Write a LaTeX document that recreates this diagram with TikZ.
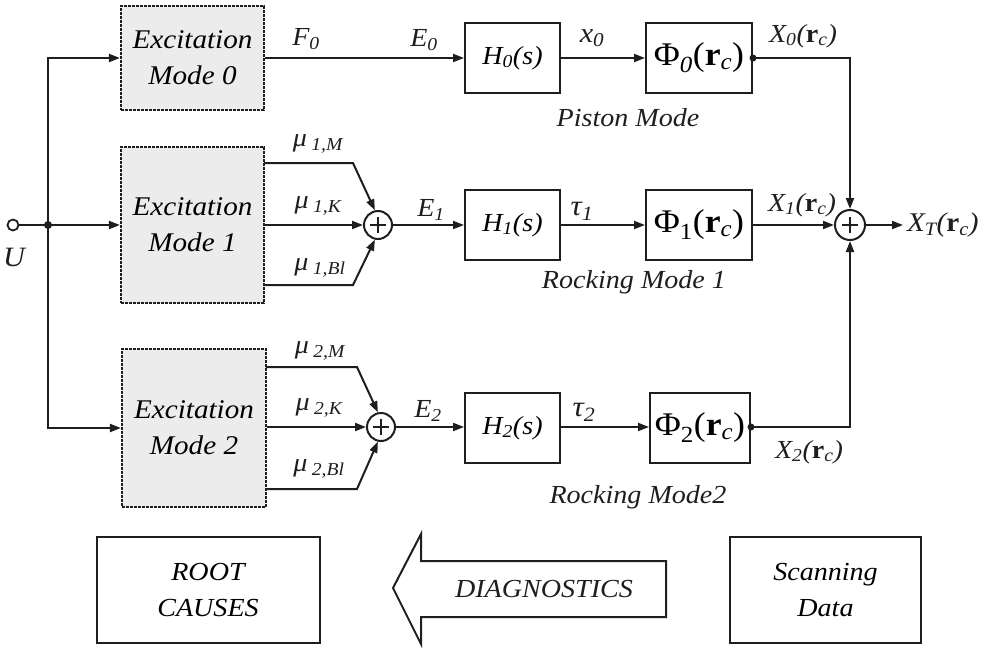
\documentclass[tikz,border=0pt]{standalone}
\usepackage{fontspec}
\setmainfont{Liberation Serif}[FakeStretch=1.08]
\usetikzlibrary{arrows.meta}
\definecolor{excfill}{RGB}{236,236,236}
\definecolor{ink}{RGB}{30,30,30}
\begin{document}
\begin{tikzpicture}[x=1pt,y=-1pt,
  line width=2pt,
  exc/.style={draw=ink, fill=excfill, dash pattern=on 3pt off 1pt, line width=2.2pt,
    minimum width=143pt, align=center, font=\fontsize{27}{36}\selectfont\itshape, inner sep=0pt},
  blk/.style={draw=ink, line width=2pt, minimum width=95pt, minimum height=70pt, inner sep=0pt,
    font=\fontsize{26}{28}\selectfont\itshape},
  phib/.style={blk, minimum width=106pt, font=\fontsize{33}{34}\selectfont\upshape},
  sumc/.style={circle, draw=ink, line width=2pt, minimum size=28pt, inner sep=0pt,
    path picture={\draw[ink, line width=1.6pt] ([xshift=-8pt]path picture bounding box.center) -- ([xshift=8pt]path picture bounding box.center);
      \draw[ink, line width=1.6pt] ([yshift=-8pt]path picture bounding box.center) -- ([yshift=8pt]path picture bounding box.center);}},
  lbl/.style={inner sep=0pt, font=\fontsize{26}{28}\selectfont\itshape, text=ink},
  mul/.style={inner sep=0pt, font=\fontsize{26}{28}\selectfont\itshape, text=ink},
  model/.style={inner sep=0pt, font=\fontsize{26}{28}\selectfont\itshape, text=ink},
  bot/.style={draw=ink, line width=2pt, align=center, font=\fontsize{26}{36}\selectfont\itshape, inner sep=0pt},
  arr/.style={draw=ink, -{Triangle[length=11pt,width=8pt]}, line width=2pt},
  wire/.style={draw=ink, line width=2pt},
]
\useasboundingbox (0,0) rectangle (986,648);

% input
\node[circle, draw=ink, line width=1.8pt, minimum size=11pt, inner sep=0pt] (U) at (13,225) {};
\node[lbl, font=\fontsize{28}{30}\selectfont\itshape] (Ul) at (14,257) {U};
\coordinate (J) at (48,225);
\fill[ink] (J) circle (4);

% excitation boxes
\node[exc, minimum height=104pt] (E0) at (192.5,58) {Excitation\\Mode 0};
\node[exc, minimum height=156pt] (E1) at (192.5,225) {Excitation\\Mode 1};
\node[exc, minimum width=144pt, minimum height=158pt] (E2) at (194,428) {Excitation\\Mode 2};

\draw[wire] (U) -- (J);
\draw[arr] (J) -- (E1.west);
\draw[arr] (J) |- (E0.west);
\draw[arr] (J) |- (E2.west);

% row 0
\node[blk] (H0) at (512.5,58) {H\textsubscript{0}(s)};
\node[phib] (P0) at (699,58) {Φ\textsubscript{\itshape 0}(\textbf{r}\textsubscript{\itshape c})};
\draw[arr] (E0.east) -- (H0.west);
\draw[arr] (H0) -- (P0);
\node[lbl] (F0l) at (306,39) {F\textsubscript{0}};
\node[lbl] (E0l) at (424,40) {E\textsubscript{0}};
\node[lbl, font=\fontsize{28}{30}\selectfont\itshape] (x0l) at (592,38) {x\textsubscript{0}};
\node[model] (pist) at (628,118) {Piston Mode};

% row 1
\node[sumc] (S1) at (378,225) {};
\node[blk] (H1) at (512.5,225) {H\textsubscript{1}(s)};
\node[phib] (P1) at (699,225) {Φ\textsubscript{1}(\textbf{r}\textsubscript{\itshape c})};
\coordinate (m1t) at (264,163);
\coordinate (m1b) at (264,285);
\draw[arr] (m1t) -- ++(89,0) -- (S1.102);
\draw[arr] (E1.east) -- (S1.west);
\draw[arr] (m1b) -- ++(89,0) -- (S1.258);
\draw[arr] (S1) -- (H1);
\draw[arr] (H1) -- (P1);
\node[mul] (mu1M) at (318,144) {μ\,\textsubscript{1,M}};
\node[mul] (mu1K) at (318,206) {μ\,\textsubscript{1,K}};
\node[mul] (mu1B) at (320,268) {μ\,\textsubscript{1,Bl}};
\node[lbl] (E1l) at (431,210) {E\textsubscript{1}};
\node[lbl, font=\fontsize{29}{30}\selectfont\itshape] (t1l) at (582,211) {τ\textsubscript{1}};
\node[model] (rock1) at (634,282) {Rocking Mode 1};

% row 2
\node[sumc] (S2) at (381,427) {};
\node[blk] (H2) at (512.5,428) {H\textsubscript{2}(s)};
\node[phib, minimum width=100pt] (P2) at (700,428) {Φ\textsubscript{2}(\textbf{r}\textsubscript{\itshape c})};
\coordinate (m2t) at (266,367);
\coordinate (m2b) at (266,489);
\draw[arr] (m2t) -- ++(91,0) -- (S2.102);
\draw[arr] (E2.east |- S2) -- (S2.west);
\draw[arr] (m2b) -- ++(91,0) -- (S2.258);
\draw[arr] (S2) -- (H2.west |- S2);
\draw[arr] (H2.east |- S2) -- (P2.west |- S2);
\node[mul] (mu2M) at (320,351) {μ\,\textsubscript{2,M}};
\node[mul] (mu2K) at (319,408) {μ\,\textsubscript{2,K}};
\node[mul] (mu2B) at (319,469) {μ\,\textsubscript{2,Bl}};
\node[lbl] (E2l) at (428,411) {E\textsubscript{2}};
\node[lbl, font=\fontsize{29}{30}\selectfont\itshape] (t2l) at (584,412) {τ\textsubscript{2}};
\node[model] (rock2) at (638,497) {Rocking Mode2};

% total sum
\node[sumc, minimum size=30pt] (ST) at (850,225) {};
\fill[ink] (P0.east) circle (3.5);
\fill[ink] (P2.east |- S2) circle (3.5);
\draw[arr] (P0.east) -| (ST.north);
\draw[arr] (P2.east |- S2) -| (ST.south);
\draw[arr] (P1.east) -- (ST.west);
\node[lbl, anchor=west, font=\fontsize{27}{28}\selectfont\itshape] (XT) at (906,225) {X\textsubscript{T}(\textbf{\upshape r}\textsubscript{c})};
\draw[arr] (ST.east) -- ([xshift=-3pt]XT.west);
\node[lbl] (X0l) at (803,36) {X\textsubscript{0}(\textbf{\upshape r}\textsubscript{c})};
\node[lbl] (X1l) at (802,205) {X\textsubscript{1}(\textbf{\upshape r}\textsubscript{c})};
\node[lbl] (X2l) at (809,452) {X\textsubscript{2}(\textbf{\upshape r}\textsubscript{c})};

% bottom row
\node[bot, minimum width=223pt, minimum height=106pt] (RC) at (208,590) {ROOT\\CAUSES};
\node[bot, minimum width=191pt, minimum height=106pt] (SD) at (825.5,590) {Scanning\\Data};
\draw[wire, line join=miter] (393,588) -- (421,534) -- (421,561) -- (666,561) -- (666,617) -- (421,617) -- (421,644) -- cycle;
\node[lbl] (DG) at (544,589) {DIAGNOSTICS};
\end{tikzpicture}
\end{document}
